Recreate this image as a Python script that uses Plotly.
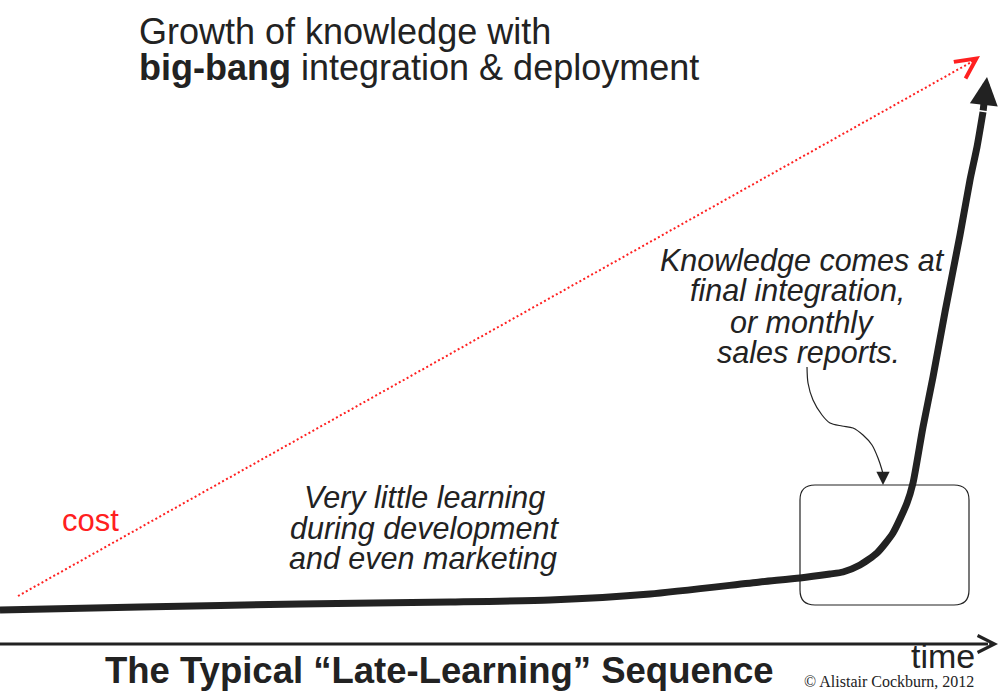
import plotly.graph_objects as go

# Knowledge curve (time, knowledge)
time_k = [0, 140, 300, 450, 550, 650, 760, 800, 830, 843, 860, 877, 893, 907, 913, 923, 933, 945, 960, 970, 977, 983]
knowledge = [89, 92, 95, 97, 99, 105, 117, 121, 125, 127, 134, 146, 166, 196, 216, 272, 322, 387, 464, 519, 552, 587]
knowledge_tip = (987, 622)

# Cost grows linearly
time_cost = [18, 975]
cost = [103, 639]
cost_tip = (980, 643)

# time axis
time_axis = [0, 988]
axis_level = [55, 55]
axis_tip = (998, 55)

# pointer from the note down to the highlighted period
pointer_t = [807, 808, 813, 822, 830, 842, 853, 863, 872, 878, 882, 883]
pointer_k = [332, 316, 299, 284, 276, 273, 271, 264, 254, 241, 229, 225]
pointer_tip = (883, 214)

# highlighted period (final integration)
box_t0, box_t1 = 800, 969
box_k0, box_k1 = 94, 214

INK = "#222222"
SANS = "Liberation Sans, Arial, sans-serif"
SERIF = "Liberation Serif, Times New Roman, serif"

fig = go.Figure()

fig.add_trace(go.Scatter(x=time_axis, y=axis_level, mode="lines",
                         line=dict(color=INK, width=3), hoverinfo="skip"))
fig.add_trace(go.Scatter(x=time_cost, y=cost, mode="lines",
                         line=dict(color="#ff2020", width=2, dash="2px,2.5px"), hoverinfo="skip"))
fig.add_trace(go.Scatter(x=time_k, y=knowledge, mode="lines",
                         line=dict(color=INK, width=7, shape="spline", smoothing=0.6), hoverinfo="skip"))
fig.add_trace(go.Scatter(x=pointer_t, y=pointer_k, mode="lines",
                         line=dict(color=INK, width=1.2, shape="spline", smoothing=0.8), hoverinfo="skip"))

# rounded box around the late learning
r = 15
box_path = (f"M {box_t0 + r},{box_k0} L {box_t1 - r},{box_k0} Q {box_t1},{box_k0} {box_t1},{box_k0 + r} "
            f"L {box_t1},{box_k1 - r} Q {box_t1},{box_k1} {box_t1 - r},{box_k1} "
            f"L {box_t0 + r},{box_k1} Q {box_t0},{box_k1} {box_t0},{box_k1 - r} "
            f"L {box_t0},{box_k0 + r} Q {box_t0},{box_k0} {box_t0 + r},{box_k0} Z")
fig.add_shape(type="path", path=box_path, xref="x", yref="y", line=dict(color=INK, width=1.2))

# arrow heads
fig.add_annotation(x=knowledge_tip[0], y=knowledge_tip[1], ax=time_k[-1], ay=knowledge[-1],
                   xref="x", yref="y", axref="x", ayref="y", text="", showarrow=True,
                   arrowhead=2, arrowwidth=7, arrowsize=0.8, arrowcolor=INK)
fig.add_annotation(x=cost_tip[0], y=cost_tip[1], ax=time_cost[-1] - 5, ay=cost[-1] - 3,
                   xref="x", yref="y", axref="x", ayref="y", text="", showarrow=True,
                   arrowhead=5, arrowwidth=2, arrowsize=2, arrowcolor="#ff2020")
fig.add_annotation(x=axis_tip[0], y=axis_tip[1], ax=time_axis[-1], ay=axis_level[-1],
                   xref="x", yref="y", axref="x", ayref="y", text="", showarrow=True,
                   arrowhead=5, arrowwidth=3, arrowsize=1.1, arrowcolor=INK)
fig.add_annotation(x=pointer_tip[0], y=pointer_tip[1], ax=pointer_t[-1], ay=pointer_k[-1],
                   xref="x", yref="y", axref="x", ayref="y", text="", showarrow=True,
                   arrowhead=2, arrowwidth=1.2, arrowsize=2.2, arrowcolor=INK)

# texts
def label(x, y, text, size, anchor="center", family=SANS, color=INK):
    fig.add_annotation(x=x, y=y, xref="x", yref="y", text=text, showarrow=False,
                       xanchor=anchor, yanchor="middle", borderpad=0,
                       font=dict(family=family, size=size, color=color))

label(138, 668, "Growth of knowledge with", 36, "left")
label(138, 632, "<b>big-bang</b> integration &amp; deployment", 36, "left")

label(802, 439, "<i>Knowledge comes at</i>", 30.5)
label(797, 409, "<i>final integration,</i>", 30.5)
label(802, 377, "<i>or monthly</i>", 30.5)
label(808, 347, "<i>sales reports.</i>", 30.5)

label(424, 202, "<i>Very little learning</i>", 30.5)
label(424, 171, "<i>during development</i>", 30.5)
label(423, 141, "<i>and even marketing</i>", 30.5)

label(90, 179, "cost", 31, color="#ff2020")
label(439, 29, "<b>The Typical \u201cLate-Learning\u201d Sequence</b>", 36.5)
label(943, 43, "time", 34)
label(889, 18, "\u00a9 Alistair Cockburn, 2012", 16, family=SERIF)

fig.update_layout(width=999, height=699, margin=dict(l=0, r=0, t=0, b=0),
                  plot_bgcolor="white", paper_bgcolor="white", showlegend=False,
                  xaxis=dict(range=[0, 999], visible=False, fixedrange=True),
                  yaxis=dict(range=[0, 699], visible=False, fixedrange=True))

# no page margin, so the drawing sits at the window's corner
fig.write_html("out.html", config={"displayModeBar": False},
               post_script="document.body.style.margin='0';")
